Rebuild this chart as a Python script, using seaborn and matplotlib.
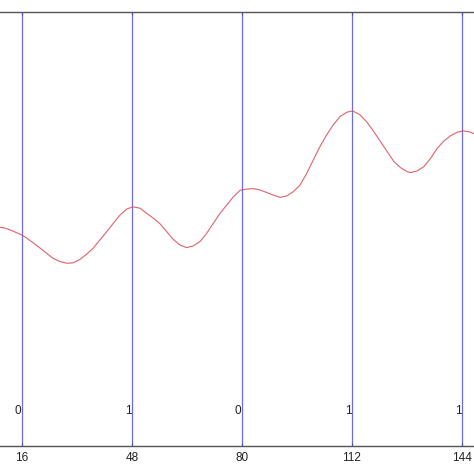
import pandas as pd
import seaborn as sns
import matplotlib.pyplot as plt

# curve (x in sample units, y in relative units)
curve_x = [9.60, 11.05, 12.51, 13.96, 16.00, 17.37, 19.29, 21.24, 23.19, 25.11,
           27.05, 29.00, 30.92, 32.87, 34.82, 36.74, 38.69, 40.64, 42.56, 44.51,
           46.46, 48.20, 50.33, 52.28, 54.20, 56.15, 58.09, 60.01, 61.96, 63.91,
           65.83, 67.78, 69.73, 71.65, 73.60, 75.55, 77.47, 79.42, 81.37, 83.29,
           85.24, 87.19, 89.11, 91.05, 93.00, 94.92, 96.87, 98.82, 100.74, 102.69,
           104.64, 106.56, 108.51, 110.46, 112.20, 114.33, 116.28, 118.20, 120.15, 122.10,
           124.22, 126.17, 128.09, 129.08, 131.00, 132.95, 134.89, 136.81, 138.76, 140.71,
           142.63, 144.38, 146.04, 147.49]
curve_y = [0.504, 0.502, 0.498, 0.493, 0.486, 0.479, 0.468, 0.456, 0.444, 0.432,
           0.425, 0.421, 0.422, 0.430, 0.442, 0.456, 0.475, 0.494, 0.513, 0.532,
           0.546, 0.551, 0.548, 0.536, 0.525, 0.512, 0.494, 0.476, 0.463, 0.457,
           0.461, 0.471, 0.490, 0.513, 0.536, 0.555, 0.574, 0.589, 0.592, 0.593,
           0.590, 0.584, 0.578, 0.573, 0.576, 0.586, 0.601, 0.628, 0.659, 0.690,
           0.717, 0.740, 0.759, 0.769, 0.772, 0.763, 0.747, 0.726, 0.703, 0.680,
           0.655, 0.641, 0.632, 0.630, 0.634, 0.644, 0.663, 0.686, 0.703, 0.715,
           0.723, 0.726, 0.724, 0.720]

marker_x = [16, 48, 80, 112, 144]
marker_bits = ["0", "1", "0", "1", "1"]

df = pd.DataFrame({"x": curve_x, "y": curve_y})

sns.set_theme(style="white")
plt.rcParams['font.family'] = ['Liberation Sans', 'DejaVu Sans']

fig = plt.figure(figsize=(4.74, 4.74), dpi=100)
ax = fig.add_axes([0.0, 0.0591, 1.0, 0.9156])

for xv, bit in zip(marker_x, marker_bits):
    ax.axvline(xv, color="#4646e6", lw=0.9, alpha=0.8, zorder=1)
    ax.text(xv - 0.15, 0.081, bit, ha="right", va="center", fontsize=8.5, color="#222222")

sns.lineplot(data=df, x="x", y="y", ax=ax, color="#d9484f", lw=0.8, alpha=0.85, zorder=2)

ax.set_xlim(9.6, 147.5)
ax.set_ylim(0, 1)
ax.set_xticks(marker_x)
ax.set_xticklabels([str(v) for v in marker_x], fontsize=8.5, color="#222222")
ax.set_yticks([])
ax.set_xlabel("")
ax.set_ylabel("")
ax.tick_params(axis="x", direction="in", length=2.5, width=0.8, pad=4,
               top=True, bottom=True, color="#555577")

for side in ["left", "right"]:
    ax.spines[side].set_visible(False)
for side in ["top", "bottom"]:
    ax.spines[side].set_color("#555555")
    ax.spines[side].set_linewidth(1.0)

fig.savefig("out.png", dpi=100)
